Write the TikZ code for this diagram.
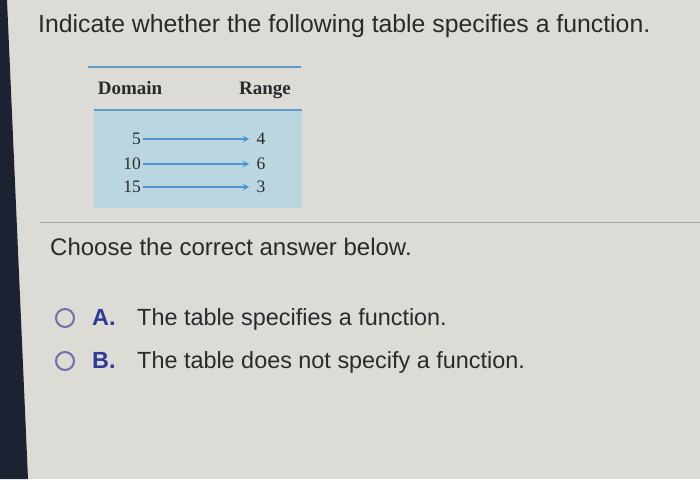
\documentclass[tikz,border=0pt]{standalone}
\usepackage{fontspec}
\setmainfont{Liberation Sans}
\newfontfamily\tabfont{Liberation Serif}
\usetikzlibrary{arrows}
\definecolor{pagebg}{HTML}{DCDBD5}
\definecolor{darkbar}{HTML}{1C2232}
\definecolor{textgray}{HTML}{2A2A2C}
\definecolor{tableblue}{HTML}{B9D6E1}
\definecolor{tableline}{HTML}{5F9CC8}
\definecolor{arrowblue}{HTML}{5196CB}
\definecolor{sepgray}{HTML}{A9A9A6}
\definecolor{radioblue}{HTML}{6B70A8}
\definecolor{letterblue}{HTML}{2F3A96}
\tikzstyle{question} = [anchor = base west, inner sep = 0pt, text = textgray, font = \fontsize{24}{28}\selectfont]
\tikzstyle{option} = [anchor = base west, inner sep = 0pt, text = textgray, font = \fontsize{23.4}{26}\selectfont]
\tikzstyle{letter} = [anchor = base west, inner sep = 0pt, text = letterblue, font = \bfseries\fontsize{23.4}{26}\selectfont]
\tikzstyle{radio} = [circle, draw = radioblue, line width = 2pt, minimum size = 18pt, inner sep = 0pt]
\tikzstyle{head} = [anchor = base, text = textgray, font = \tabfont\bfseries\fontsize{19}{21}\selectfont]
\tikzstyle{num} = [text = textgray, inner sep = 2pt, font = \tabfont\fontsize{17.5}{20}\selectfont]
\tikzstyle{arrow} = [line width = 2pt, ->, >=stealth, draw = arrowblue, shorten >= 5pt]
\begin{document}
\begin{tikzpicture}[x = 1pt, y = -1pt]
        	\useasboundingbox (0,0) rectangle (700,479);
        	\fill[pagebg] (0,0) rectangle (700,479);
        	\fill[darkbar] (0,0) -- (7,0) -- (28,479) -- (0,479) -- cycle;
        	
        	\node[question, font = \fontsize{24.8}{28}\selectfont](title) at (38,32.5){Indicate whether the following table specifies a function.};
        	
        	\fill[tableblue] (94,110) rectangle (302,208);
        	\draw[tableline, line width = 1.2pt] (88,67) -- (301,67);
        	\draw[tableline, line width = 2.2pt] (94,110) -- (302,110);
        	\node[head](domain) at (130,94){Domain};
        	\node[head](range) at (265,94){Range};
        	
        	\node[num, anchor = east](d5) at (143,139){5};
        	\node[num, anchor = east](d10) at (143,164){10};
        	\node[num, anchor = east](d15) at (143,187){15};
        	\node[num](r4) at (261,139){4};
        	\node[num](r6) at (261,164){6};
        	\node[num](r3) at (261,187){3};
        	
        	\draw [arrow](d5)--(r4);
			\draw [arrow](d10)--(r6);
			\draw [arrow](d15)--(r3);
        	
        	\draw[sepgray, line width = 1.3pt] (40,222.5) -- (700,222.5);
        	\node[question](choose) at (50,255.5){Choose the correct answer below.};
        	
        	\node[radio](radioA) at (65,318){};
        	\node[letter](letterA) at (92,325){A.};
        	\node[option](optA) at (137,325){The table specifies a function.};
        	\node[radio](radioB) at (65,361){};
        	\node[letter](letterB) at (92,368.5){B.};
        	\node[option](optB) at (137,368.5){The table does not specify a function.};
        
        \end{tikzpicture}
\end{document}
